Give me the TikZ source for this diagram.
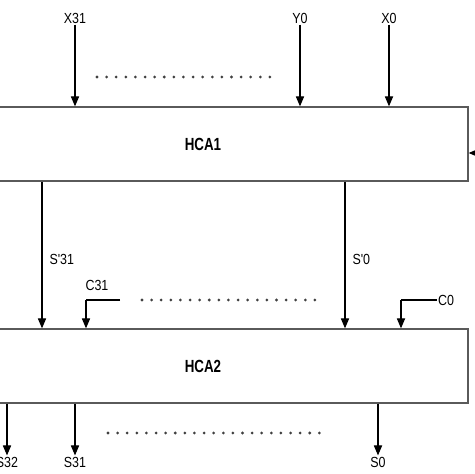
\documentclass[tikz,border=0pt]{standalone}
\usepackage{fontspec}
\setmainfont{Liberation Sans}
\newfontfamily\narrowsans[FakeStretch=0.85]{Liberation Sans}
\newfontfamily\narrowbold[FakeStretch=0.76]{Liberation Sans Bold}
\usepackage{tikz}
\usetikzlibrary{arrows.meta, positioning, calc}
\definecolor{boxgray}{RGB}{90,90,90}

\begin{document}
\begin{tikzpicture}[x=0.03cm, y=-0.03cm,
    block/.style={rectangle, draw=boxgray, line width=1.1pt, minimum width=15.9cm,
                  minimum height=2.22cm, font=\narrowbold\fontsize{15}{17}\selectfont},
    lbl/.style={inner sep=1pt, font=\narrowsans\fontsize{12.5}{14}\selectfont},
    arrow/.style={line width=0.9pt, -{Triangle[length=8.5pt, width=7pt]}},
    wire/.style={line width=0.9pt},
    dots/.style={line width=2.6pt, line cap=round, dash pattern=on 0pt off 8.2pt, black!75}]

\useasboundingbox (0,0) rectangle (474,474);

% the two adder blocks (left edges run off the picture)
\node (hca1) [block] at (203,144) {HCA1};
\node (hca2) [block] at (203,366) {HCA2};

% inputs of HCA1
\node (x31) [lbl] at (75,18)  {X31};
\node (y0)  [lbl] at (300,18) {Y0};
\node (x0)  [lbl] at (389,18) {X0};
\draw [arrow] (x31.south) -- (x31.south |- hca1.north);
\draw [arrow] (y0.south)  -- (y0.south |- hca1.north);
\draw [arrow] (x0.south)  -- (x0.south |- hca1.north);
\draw [dots] (97,77) -- (272,77);

% carry in from the right
\coordinate (cin) at (490,153);
\draw [arrow] (cin) -- (cin -| hca1.east);

% sums of HCA1 into HCA2
\coordinate (s31a) at (42,0);
\coordinate (s0a)  at (345,0);
\draw [arrow] (s31a |- hca1.south) -- node[lbl, pos=0.53, right=5pt]{S'31} (s31a |- hca2.north);
\draw [arrow] (s0a |- hca1.south)  -- node[lbl, pos=0.53, right=5pt]{S'0}  (s0a |- hca2.north);

% carries into HCA2
\node (c31) [lbl] at (97,285)  {C31};
\node (c0)  [lbl] at (446,300) {C0};
\coordinate (c31s) at (120,300);
\coordinate (c31t) at (86,300);
\coordinate (c0t)  at (401,300);
\draw [wire]  (c31s) -- (c31t);
\draw [arrow] (c31t) -- (c31t |- hca2.north);
\draw [wire]  (c0.west) -- (c0t);
\draw [arrow] (c0t) -- (c0t |- hca2.north);
\draw [dots] (142,300) -- (317,300);

% outputs of HCA2
\node (s32) [lbl] at (7,462)   {S32};
\node (s31) [lbl] at (75,462)  {S31};
\node (s0)  [lbl] at (378,462) {S0};
\draw [arrow] (s32.north |- hca2.south) -- (s32.north);
\draw [arrow] (s31.north |- hca2.south) -- (s31.north);
\draw [arrow] (s0.north |- hca2.south)  -- (s0.north);
\draw [dots] (108,433) -- (328,433);

\end{tikzpicture}
\end{document}
